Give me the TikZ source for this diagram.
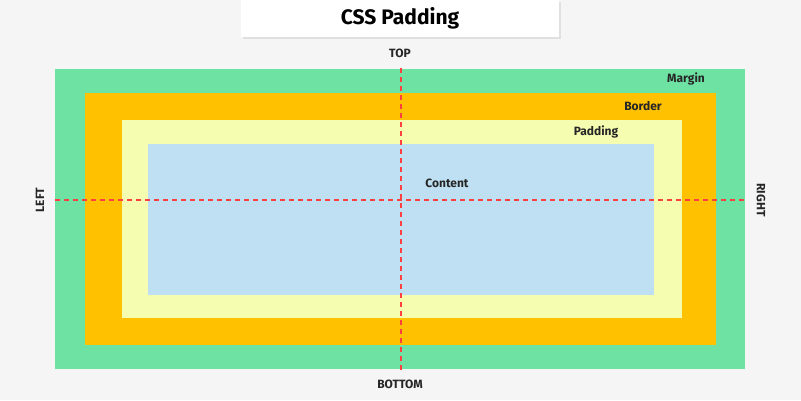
\documentclass[tikz,border=0pt]{standalone}
\usepackage{fontspec}
\setmainfont{Fira Sans}
\begin{document}
\begin{tikzpicture}[x=1pt,y=-1pt,
  lbl/.style={font=\bfseries\fontsize{12}{14}\selectfont,text=black!85},
  reddash/.style={draw=red!75!white,line width=1.5pt,dash pattern=on 5pt off 4pt}]
\fill[black!4] (0,0) rectangle (801,400);
\useasboundingbox (0,0) rectangle (801,400);
\fill[black!12] (243,2) rectangle (561,39);
\node[fill=white,minimum width=318pt,minimum height=37pt,anchor=north west,inner sep=0] (title) at (241,0) {};
\node[font=\bfseries\fontsize{21}{24}\selectfont] at (400,18) {CSS Padding};
\node[fill={rgb,255:red,109;green,226;blue,162},minimum width=690pt,minimum height=300pt,anchor=north west,inner sep=0] (margin) at (55,69) {};
\node[fill={rgb,255:red,255;green,193;blue,0},minimum width=631pt,minimum height=252pt,anchor=north west,inner sep=0] (border) at (85,93) {};
\node[fill={rgb,255:red,245;green,253;blue,176},minimum width=560pt,minimum height=198pt,anchor=north west,inner sep=0] (padding) at (122,120) {};
\node[fill={rgb,255:red,190;green,224;blue,242},minimum width=506pt,minimum height=151pt,anchor=north west,inner sep=0] (content) at (148,144) {};
\coordinate (vt) at (401,68); \coordinate (vb) at (401,372);
\coordinate (hl) at (55,200); \coordinate (hr) at (745,200);
\draw[reddash] (vt) -- (vb);
\draw[reddash] (hl) -- (hr);
\node[lbl] at (400,53) {TOP};
\node[lbl] at (400,384) {BOTTOM};
\node[lbl,rotate=90] at (40,200) {LEFT};
\node[lbl,rotate=-90] at (761,200) {RIGHT};
\node[lbl] at (686,79) {Margin};
\node[lbl] at (643,106) {Border};
\node[lbl] at (596,132) {Padding};
\node[lbl] at (447,183) {Content};
\end{tikzpicture}
\end{document}
